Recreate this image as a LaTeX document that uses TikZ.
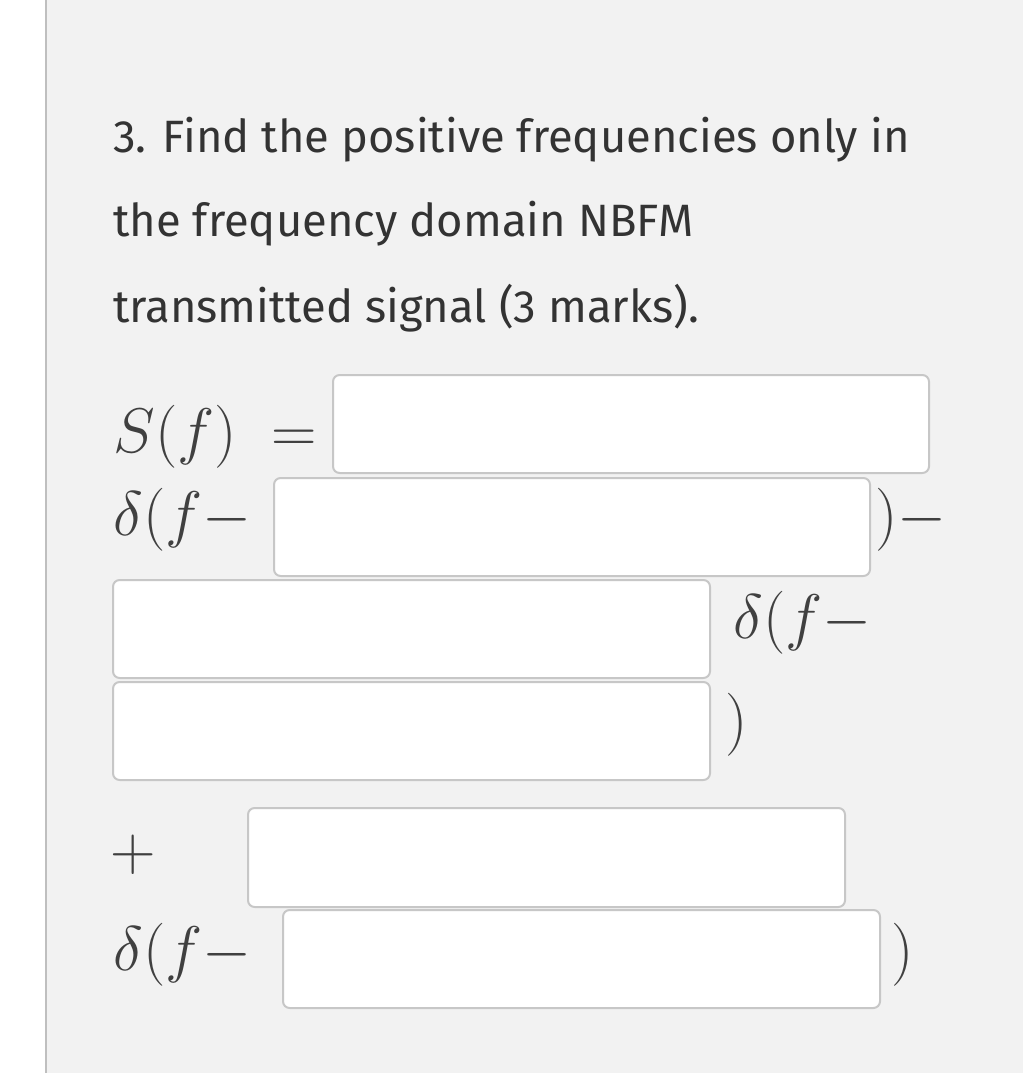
\documentclass[tikz,border=0pt]{standalone}
\usepackage{fontspec}
\setmainfont{Fira Sans}
\begin{document}
\begin{tikzpicture}[x=0.75pt,y=-0.75pt,
  ans/.style={draw=black!22,line width=1.5pt,fill=white,rounded corners=5pt},
  txt/.style={anchor=west,inner sep=0pt,text=black!80,font=\fontsize{34}{40}\selectfont},
  mth/.style={anchor=base west,inner sep=0pt,text=black!75,font=\fontsize{30}{36}\selectfont,scale=1.9}]
\useasboundingbox (0,0) rectangle (1023,1073);
\fill[white] (0,0) rectangle (1023,1073);
\fill[black!5] (46,0) rectangle (1023,1073);
\draw[black!25,line width=1.5pt] (46,0) -- (46,1073);
\node[txt] (l1) at (113,140) {3. Find the positive frequencies only in};
\node[txt] (l2) at (113,224) {the frequency domain NBFM};
\node[txt] (l3) at (113,308) {transmitted signal (3 marks).};
\draw[ans] (333,375) rectangle (929,473);
\draw[ans] (274,478) rectangle (870,576);
\draw[ans] (113,580) rectangle (710,678);
\draw[ans] (113,682) rectangle (710,780);
\draw[ans] (248,808) rectangle (845,907);
\draw[ans] (283,910) rectangle (880,1008);
\node[mth] (m1) at (113,452) {$S(f)\;=$};
\node[mth] (m2) at (113,535) {$\delta(f-$};
\node[mth] (m3) at (875,535) {$)-$};
\node[mth] (m4) at (733,638) {$\delta(f-$};
\node[mth] (m5) at (725,740) {$)$};
\node[mth] (m6) at (110,870) {$+$};
\node[mth] (m7) at (113,970) {$\delta(f-$};
\node[mth] (m8) at (891,970) {$)$};
\end{tikzpicture}
\end{document}
